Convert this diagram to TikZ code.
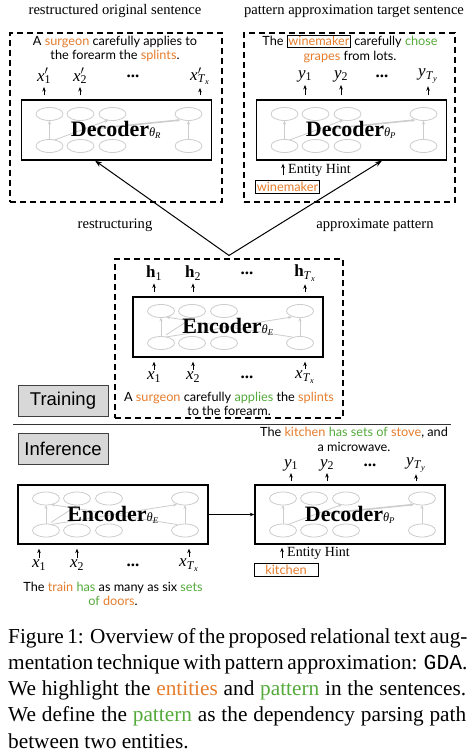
\documentclass[tikz,border=0pt]{standalone}
\usepackage{fontspec}
\setmainfont{Liberation Serif}
\setmonofont{Liberation Mono}
\newfontfamily\snt{Lato}
\newfontfamily\hel{Liberation Sans}
\usetikzlibrary{arrows.meta}
\definecolor{eorg}{RGB}{230,125,45}
\definecolor{pgrn}{RGB}{85,170,60}
\definecolor{cellg}{RGB}{205,205,205}
\definecolor{tbox}{RGB}{216,216,216}
\newcommand\eo[1]{\textcolor{eorg}{#1}}
\newcommand\pg[1]{\textcolor{pgrn}{#1}}
\newcommand\bxw[1]{{\setlength\fboxsep{0.8pt}\setlength\fboxrule{0.8pt}\fbox{\eo{#1}}}}
\newcommand\xs[1]{\textit{x}\textsubscript{#1}}
\newcommand\ys[1]{\textit{y}\textsubscript{#1}}
\newcommand\hs[1]{\textbf{h}\textsubscript{#1}}
\newcommand\xps[1]{\textit{x}\rlap{$^{\prime}$}\textsubscript{#1}}
\newcommand\Tx{\textit{T}\textsubscript{\textit{x}}}
\newcommand\Ty{\textit{T}\textsubscript{\textit{y}}}
\newcommand\mname[2]{\textbf{#1}{\fontsize{12.5}{12.5}\selectfont\itshape θ\textsubscript{#2}}}
\newcommand\cellgrid[3]{%
  \foreach \dx in {-67,-36,-4,72}{
    \draw[cell] (#1+\dx,#2-16) ellipse (13.5 and 6.5);
    \draw[cell] (#1+\dx,#2+16) ellipse (13.5 and 6.5);
  }
  \draw[cellarr] (#1-67,#2+9.5) -- (#1-67,#2-9.5);
  \draw[cellarr] (#1+72,#2+9.5) -- (#1+72,#2-9.5);
  \ifnum#3=1
    \draw[cellarr] (#1-62,#2+10) -- (#1-8,#2-10);
    \draw[cellarr,line width=1.6pt] (#1-25,#2-1) -- (#1+64,#2-10);
  \else
    \draw[cellarr] (#1-62,#2+10) -- (#1+64,#2-10);
    \draw[cellarr] (#1+64,#2+10) -- (#1-62,#2-10);
    \draw[cellarr] (#1-62,#2+8) -- (#1-36,#2-9);
  \fi
}
\tikzset{
  cell/.style={draw=cellg, line width=0.8pt},
  cellarr/.style={draw=cellg, line width=0.8pt, -{Stealth[length=4pt,width=3pt]}},
  dbox/.style={draw, dash pattern=on 6pt off 4pt, line width=1.1pt, inner sep=0},
  mbox/.style={draw, line width=1.3pt, inner sep=0, minimum width=190pt, minimum height=60pt},
  sarr/.style={-{Stealth[length=4.5pt,width=3.5pt]}, line width=0.9pt},
  barr/.style={-{Stealth[length=7pt,width=5pt]}, line width=1pt},
  lab/.style={font=\fontsize{17}{17}\selectfont, inner sep=0},
  blab/.style={font=\fontsize{17}{17}\selectfont, inner sep=0, text height=8pt},
  dots/.style={font=\fontsize{17}{17}\selectfont, inner sep=0, text height=3pt, text depth=0pt},
  sent/.style={font=\snt\fontsize{12.7}{14}\selectfont, align=center, inner sep=0},
  ttl/.style={font=\fontsize{14.6}{14.6}\selectfont, inner sep=0},
  mtxt/.style={font=\fontsize{22}{22}\selectfont, inner sep=0},
  hint/.style={font=\fontsize{14}{14}\selectfont, inner sep=0, anchor=west},
  hbox/.style={draw, line width=1pt, inner xsep=1.5pt, inner ysep=0pt, minimum width=64pt, minimum height=13pt, font=\snt\fontsize{12.8}{12.8}\selectfont, text=eorg},
  phase/.style={draw=black!75, fill=tbox, line width=1pt, minimum width=90pt, minimum height=31pt, inner sep=0, font=\hel\fontsize{18.5}{18.5}\selectfont},
}
\begin{document}
\begin{tikzpicture}[x=1pt,y=-1pt]
\useasboundingbox[fill=white] (0,0) rectangle (474,754);

% ---------- top titles
\node[ttl] (tl) at (115,11) {restructured original sentence};
\node[ttl] (tr) at (354,11) {pattern approximation target sentence};

% ---------- left dashed box (restructuring decoder)
\node[dbox, minimum width=212pt, minimum height=169pt] (dl) at (116,117.5) {};
\node[sent] (sl) at (115,48.5) {A \eo{surgeon} carefully applies to\\the forearm the \eo{splints}.};
\node[mbox] (decR) at (116.5,130) {};
\cellgrid{116.5}{130}{1}
\node[mtxt] (decRt) at (116,130) {\mname{Decoder}{R}};
\node[lab] (xp1) at (44,76) {\xps{1}};
\node[lab] (xp2) at (80,76) {\xps{2}};
\node[dots] (xpd) at (133,76) {\textbf{...}};
\node[lab] (xpT) at (200,76) {\xps{\Tx}};
\foreach \n in {xp1,xp2,xpT}{
  \draw[sarr] ([yshift=4pt]decR.north -| \n) -- ([yshift=-3pt]\n.south);
}

% ---------- right dashed box (pattern decoder)
\node[dbox, minimum width=211pt, minimum height=169pt] (dr) at (349.5,117.5) {};
\node[sent, font=\snt\fontsize{12.7}{15}\selectfont] (sr) at (350,49) {The \bxw{winemaker} carefully \pg{chose}\\\eo{grapes} from lots.};
\node[mbox] (decP) at (351.5,130) {};
\cellgrid{351.5}{130}{1}
\node[mtxt] (decPt) at (351,130) {\mname{Decoder}{P}};
\node[lab] (y1) at (305,76) {\ys{1}};
\node[lab] (y2) at (341,76) {\ys{2}};
\node[dots] (yd) at (382,76) {\textbf{...}};
\node[lab] (yT) at (428,76) {\ys{\Ty}};
\foreach \n in {y1,y2,yT}{
  \draw[sarr] ([yshift=4pt]decP.north -| \n) -- ([yshift=-3pt]\n.south);
}
\node[hbox] (wm) at (287.5,187) {winemaker};
\coordinate (ha) at (283,0);
\draw[sarr] ([yshift=5pt]wm.north -| ha) -- ([yshift=-3pt]decP.south -| ha);
\node[hint] (eh1) at (288,170) {Entity Hint};

% ---------- encoder (training)
\node[dbox, minimum width=228pt, minimum height=159pt] (de) at (229,338.5) {};
\coordinate (apex) at ([yshift=3pt]de.north);
\draw[barr] (apex) -- ([xshift=-21.5pt]decR.south);
\draw[barr] (apex) -- ([xshift=30.5pt]decP.south);
\node[ttl] (rs) at (115,225) {restructuring};
\node[ttl] (ap) at (375,225) {approximate pattern};

\node[mbox] (encT) at (228,327) {};
\cellgrid{228}{327}{2}
\node[mtxt] (encTt) at (228,327) {\mname{Encoder}{E}};
\node[lab] (h1) at (154,273) {\hs{1}};
\node[lab] (h2) at (193,273) {\hs{2}};
\node[dots] (hd) at (247,273) {\textbf{...}};
\node[lab] (hT) at (305,273) {\hs{\Tx}};
\foreach \n in {h1,h2,hT}{
  \draw[sarr] ([yshift=4pt]encT.north -| \n) -- ([yshift=-3pt]\n.south);
}
\node[lab] (x1) at (154,377) {\xs{1}};
\node[lab] (x2) at (193,377) {\xs{2}};
\node[dots] (xd) at (247,377) {\textbf{...}};
\node[lab] (xT) at (305,377) {\xs{\Tx}};
\foreach \n in {x1,x2,xT}{
  \draw[sarr] ([yshift=2pt]\n.north) -- ([yshift=-4pt]encT.south -| \n);
}
\node[sent] (st) at (229,404) {A \eo{surgeon} carefully \pg{applies} the \eo{splints}\\to the forearm.};

% ---------- phase labels and separator
\node[phase] (train) at (63,401) {Training};
\coordinate (sepL) at (13,424);
\coordinate (sepR) at (451,424);
\draw[line width=1pt, black!80] (sepL) -- (sepR);
\node[phase] (infer) at (63,448.5) {Inference};

% ---------- inference
\node[sent, font=\snt\fontsize{12.7}{15.5}\selectfont] (si) at (354,439.5) {The \eo{kitchen} \pg{has sets of} \eo{stove}, and\\a microwave.};
\node[mbox, minimum height=59pt] (encB) at (113,514.5) {};
\cellgrid{113}{514.5}{2}
\node[mtxt] (encBt) at (113,514.5) {\mname{Encoder}{E}};
\node[mbox, minimum height=59pt] (decB) at (350,514.5) {};
\cellgrid{350}{514.5}{1}
\node[mtxt] (decBt) at (350,514.5) {\mname{Decoder}{P}};
\draw[sarr, line width=1pt] (encB.east) -- (decB.west);

\node[blab] (by1) at (291,465) {\ys{1}};
\node[blab] (by2) at (327,465) {\ys{2}};
\node[dots] (byd) at (370,465) {\textbf{...}};
\node[blab] (byT) at (416,465) {\ys{\Ty}};
\foreach \n in {by1,by2,byT}{
  \draw[sarr] ([yshift=3pt]decB.north -| \n) -- ([yshift=-2pt]\n.south);
}
\node[lab] (bx1) at (39,565) {\xs{1}};
\node[lab] (bx2) at (77,565) {\xs{2}};
\node[dots] (bxd) at (133,565) {\textbf{...}};
\node[lab] (bxT) at (189,565) {\xs{\Tx}};
\foreach \n in {bx1,bx2,bxT}{
  \draw[sarr] ([yshift=2pt]\n.north) -- ([yshift=-4pt]encB.south -| \n);
}
\node[sent] (sb) at (113,593.5) {The \eo{train} \pg{has} as many as six \pg{sets}\\\pg{of} \eo{doors}.};
\node[hbox] (kt) at (286,570) {kitchen};
\coordinate (hb) at (282,0);
\draw[sarr] ([yshift=5pt]kt.north -| hb) -- ([yshift=-3pt]decB.south -| hb);
\node[hint] (eh2) at (287,553) {Entity Hint};

% ---------- caption
\node[anchor=north west, inner sep=0, align=left, font=\fontsize{21.3}{26.2}\selectfont] (cap) at (8,628) {%
\makebox[458pt][s]{Figure 1: Overview of the proposed relational text aug-}\\
\makebox[458pt][s]{mentation technique with pattern approximation: \texttt{GDA}.}\\
\makebox[458pt][s]{We highlight the \eo{entities} and \pg{pattern} in the sentences.}\\
\makebox[458pt][s]{We define the \pg{pattern} as the dependency parsing path}\\
between two entities.};
\end{tikzpicture}
\end{document}
